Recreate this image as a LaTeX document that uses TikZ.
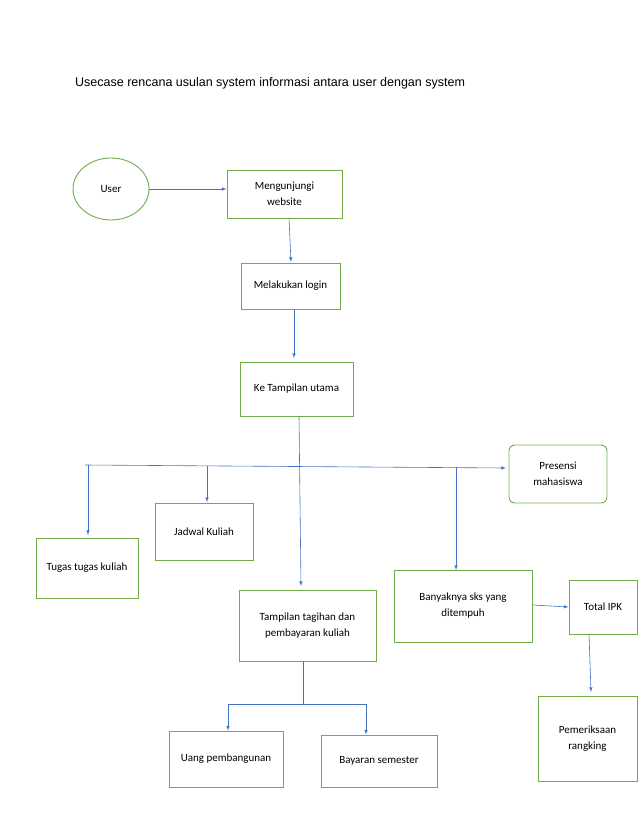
\documentclass[tikz,border=0pt]{standalone}
\usepackage{fontspec}
\setmainfont{Carlito}
\newfontfamily\titlefont{Liberation Sans}
\usetikzlibrary{positioning,shapes.geometric}
\definecolor{boxgreen}{HTML}{70AD47}
\definecolor{linkblue}{HTML}{4472C4}
\begin{document}
\begin{tikzpicture}[x=1pt, y=-1pt,
  box/.style={draw=boxgreen, line width=0.9pt, align=center, font=\fontsize{11}{16}\selectfont, inner sep=0pt},
  link/.style={draw=linkblue, line width=0.6pt},
  arr/.style={link, -latex}]
  \useasboundingbox (0,0) rectangle (638,826);
  % Title
  \node[anchor=west, inner sep=0pt, font=\titlefont\fontsize{12.5}{14}\selectfont] (title) at (75,83) {Usecase rencana usulan system informasi antara user dengan system};

  % Boxes
  \node[box, ellipse, minimum width=76, minimum height=62] (user) at (111,189) {User};
  \node[box, minimum width=115, minimum height=48] (visit) at (284.5,194) {Mengunjungi\\website};
  \node[box, minimum width=99, minimum height=46] (login) at (290.5,286) {Melakukan login};
  \node[box, minimum width=113, minimum height=54] (main) at (296.5,389) {Ke Tampilan utama};
  \node[box, rounded corners=6, minimum width=98, minimum height=58] (presensi) at (558,474) {Presensi\\mahasiswa};
  \node[box, minimum width=98, minimum height=57] (jadwal) at (204,531.5) {Jadwal Kuliah};
  \node[box, minimum width=102, minimum height=60] (tugas) at (87,568) {Tugas tugas kuliah};
  \node[box, minimum width=137, minimum height=71] (tagihan) at (307.5,625.5) {Tampilan tagihan dan\\pembayaran kuliah};
  \node[box, minimum width=138, minimum height=72] (sks) at (463,606) {Banyaknya sks yang\\ditempuh};
  \node[box, minimum width=68, minimum height=54] (ipk) at (603,607) {Total IPK};
  \node[box, minimum width=99, minimum height=85] (rangking) at (587.5,738.5) {Pemeriksaan\\rangking};
  \node[box, minimum width=114, minimum height=56] (uang) at (226,759) {Uang pembangunan};
  \node[box, minimum width=116, minimum height=52] (bayar) at (379,761) {Bayaran semester};

  % Junctions
  \coordinate (hl) at (85,465);
  \coordinate (bt) at (303,704);
  \coordinate (bl) at (228,704);
  \coordinate (br) at (366,704);

  % Links
  \draw[arr] (user.east) -- (visit.west |- user.east);
  \draw[arr] (289,218) -- (291,262);
  \draw[arr] (294,309) -- (294,358);
  \draw[arr] (299,416) -- (301,586);
  \draw[arr] (hl) -- (506,468);
  \draw[arr] (88,465) -- (88,535);
  \draw[arr] (207,466) -- (207,502);
  \draw[arr] (456,467) -- (456,570);
  \draw[link] (tagihan.south -| bt) -- (bt);
  \draw[link] (bl) -- (br);
  \draw[arr] (bl) -- (uang.north -| bl);
  \draw[arr] (br) -- (bayar.north -| br);
  \draw[arr] (533,605) -- (ipk.west);
  \draw[arr] (589,634) -- (591,692);
\end{tikzpicture}
\end{document}
